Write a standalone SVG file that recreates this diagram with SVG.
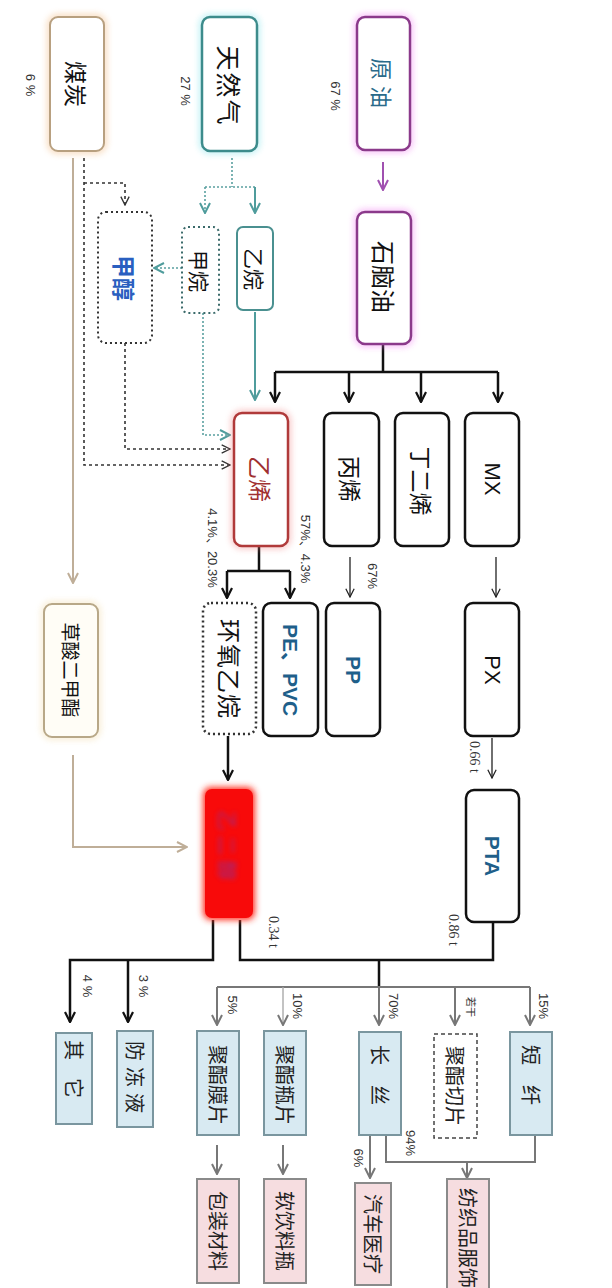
<svg xmlns="http://www.w3.org/2000/svg" width="612" height="1288" viewBox="0 0 612 1288">
<defs>
<style>
.t{font-family:"Noto Sans CJK SC","Noto Sans",sans-serif;font-size:22px;fill:#111;text-anchor:middle;dominant-baseline:central}
.e{font-family:"Liberation Sans",Arial,sans-serif;font-size:22px;fill:#111;text-anchor:middle;dominant-baseline:central}
.eb{font-family:"Liberation Sans",Arial,"Noto Sans CJK SC",sans-serif;font-size:21px;font-weight:bold;fill:#1f5f8a;text-anchor:middle;dominant-baseline:central}
.s{font-family:"Noto Sans CJK SC",sans-serif;font-size:20px;fill:#222;text-anchor:middle;dominant-baseline:central}
.l{font-family:"Liberation Sans",Arial,"Noto Sans CJK SC",sans-serif;font-size:13px;fill:#333;text-anchor:middle;dominant-baseline:central}
.lt{font-family:"Liberation Serif","Noto Sans CJK SC",serif;font-size:14px;fill:#333;text-anchor:middle;dominant-baseline:central}
.k{fill:#fff;stroke:#111;stroke-width:2.5}
.blue{fill:#d8eaf2;stroke:#7a969f;stroke-width:2}
.pink{fill:#f6dde0;stroke:#8a8a8a;stroke-width:2}
.bl{fill:none;stroke:#111;stroke-width:2.5}
.th{fill:none;stroke:#222;stroke-width:1.3}
.gr{fill:none;stroke:#777;stroke-width:2}
.tan{fill:none;stroke:#bfae98;stroke-width:2}
.dk{fill:none;stroke:#333;stroke-width:1.6;stroke-dasharray:3 3}
.tl{fill:none;stroke:#5aa0a0;stroke-width:1.6;stroke-dasharray:2 2}
.ts{fill:none;stroke:#4f9c9c;stroke-width:2}
.glow{fill:none;stroke-width:6;opacity:0.45}
</style>
<filter id="blur" x="-30%" y="-30%" width="160%" height="160%"><feGaussianBlur stdDeviation="3"/></filter>
<filter id="blur2" x="-30%" y="-30%" width="160%" height="160%"><feGaussianBlur stdDeviation="2.6"/></filter>
<marker id="aK" viewBox="0 0 12 12" refX="11" refY="6" markerWidth="12" markerHeight="12" markerUnits="userSpaceOnUse" orient="auto"><path d="M1,1 L11,6 L1,11" fill="none" stroke="#111" stroke-width="2.2"/></marker>
<marker id="aT" viewBox="0 0 12 12" refX="11" refY="6" markerWidth="10" markerHeight="10" markerUnits="userSpaceOnUse" orient="auto"><path d="M1,1 L11,6 L1,11" fill="none" stroke="#222" stroke-width="1.5"/></marker>
<marker id="aG" viewBox="0 0 12 12" refX="11" refY="6" markerWidth="12" markerHeight="12" markerUnits="userSpaceOnUse" orient="auto"><path d="M1,1 L11,6 L1,11" fill="none" stroke="#777" stroke-width="2"/></marker>
<marker id="aN" viewBox="0 0 12 12" refX="11" refY="6" markerWidth="12" markerHeight="12" markerUnits="userSpaceOnUse" orient="auto"><path d="M1,1 L11,6 L1,11" fill="none" stroke="#bfae98" stroke-width="2"/></marker>
<marker id="aP" viewBox="0 0 12 12" refX="11" refY="6" markerWidth="12" markerHeight="12" markerUnits="userSpaceOnUse" orient="auto"><path d="M1,1 L11,6 L1,11" fill="none" stroke="#a050b0" stroke-width="2"/></marker>
<marker id="aC" viewBox="0 0 12 12" refX="11" refY="6" markerWidth="12" markerHeight="12" markerUnits="userSpaceOnUse" orient="auto"><path d="M1,1 L11,6 L1,11" fill="none" stroke="#4f9c9c" stroke-width="2"/></marker>
<marker id="aD" viewBox="0 0 12 12" refX="11" refY="6" markerWidth="10" markerHeight="10" markerUnits="userSpaceOnUse" orient="auto"><path d="M1,1 L11,6 L1,11" fill="none" stroke="#333" stroke-width="1.6"/></marker>
</defs>
<rect width="612" height="1288" fill="#fff"/>

<g id="connectors">
<path class="bl" d="M383,344 V372 M275,372 H498"/>
<path class="bl" d="M275,372 V402" marker-end="url(#aK)"/>
<path class="bl" d="M349,372 V402" marker-end="url(#aK)"/>
<path class="bl" d="M421,372 V402" marker-end="url(#aK)"/>
<path class="bl" d="M498,372 V402" marker-end="url(#aK)"/>
<path class="bl" d="M259,546 V571 M227,571 H290"/>
<path class="bl" d="M227,571 V598" marker-end="url(#aK)"/>
<path class="bl" d="M290,571 V598" marker-end="url(#aK)"/>
<path class="th" d="M350,557 V597" marker-end="url(#aT)"/>
<path class="th" d="M496,557 V597" marker-end="url(#aT)"/>
<path class="th" d="M492,738 V778" marker-end="url(#aT)"/>
<path class="bl" d="M228,736 V780" marker-end="url(#aK)"/>
<path class="bl" d="M213,920 V960 H70 V1022" marker-end="url(#aK)"/>
<path class="bl" d="M128,960 V1022" marker-end="url(#aK)"/>
<path class="bl" d="M240,920 V960 H493 V922 M379,960 V987"/>
<path class="gr" d="M217,987 H530"/>
<path class="gr" d="M217,987 V1025" marker-end="url(#aG)"/>
<path class="gr" d="M283,987 V1025" style="stroke:#aaa;stroke-width:1.4" marker-end="url(#aG)"/>
<path class="gr" d="M379,987 V1025" marker-end="url(#aG)"/>
<path class="gr" d="M455,987 V1025" marker-end="url(#aG)"/>
<path class="gr" d="M530,987 V1025" marker-end="url(#aG)"/>
<path class="gr" d="M217,1145 V1174" marker-end="url(#aG)"/>
<path class="gr" d="M283,1145 V1174" marker-end="url(#aG)"/>
<path class="gr" d="M370,1135 V1178" marker-end="url(#aG)"/>
<path class="gr" d="M386,1135 V1162 H535 V1135"/>
<path class="gr" d="M467,1162 V1178" marker-end="url(#aG)"/>
<path class="tan" d="M73,158 V583" marker-end="url(#aN)"/>
<path class="tan" d="M73,755 V847 H187" marker-end="url(#aN)"/>
<path class="dk" d="M84,158 V465 H230" marker-end="url(#aD)"/>
<path class="dk" d="M84,183 H125 V205" marker-end="url(#aD)"/>
<path class="dk" d="M125,343 V449 H230" marker-end="url(#aD)"/>
<path class="tl" d="M232,158 V187 M205,187 H255"/>
<path class="tl" d="M205,187 V213" marker-end="url(#aC)"/>
<path class="ts" d="M255,187 V213" marker-end="url(#aC)"/>
<path class="tl" d="M182,268 H154" marker-end="url(#aC)"/>
<path class="tl" d="M203,313 V435 H230" marker-end="url(#aC)"/>
<path class="ts" d="M255,312 V400" marker-end="url(#aC)"/>
<path fill="none" stroke="#a050b0" stroke-width="2" d="M383,162 V190" marker-end="url(#aP)"/>
</g>

<g id="meitan">
<rect x="50" y="17" width="54" height="134" rx="8" class="glow" stroke="#f0b070" filter="url(#blur)"/>
<rect x="50" y="17" width="54" height="134" rx="8" fill="#fff" stroke="#b8a080" stroke-width="2"/>
<text class="t" transform="translate(77,84) rotate(90)" style="font-size:23px">煤炭</text>
<text class="l" transform="translate(30,85) rotate(90)">6 %</text>
</g>
<g id="tianranqi">
<rect x="202" y="17" width="55" height="134" rx="8" class="glow" stroke="#70e0e8" filter="url(#blur)"/>
<rect x="202" y="17" width="55" height="134" rx="8" fill="#fff" stroke="#3d8c8c" stroke-width="2.5"/>
<text class="t" transform="translate(230,86) rotate(90)" style="font-size:25px" letter-spacing="2">天然气</text>
<text class="l" transform="translate(185,91) rotate(90)">27 %</text>
</g>
<g id="yuanyou">
<rect x="357" y="17" width="53" height="133" rx="8" class="glow" stroke="#f070f0" filter="url(#blur)"/>
<rect x="357" y="17" width="53" height="133" rx="8" fill="#fff" stroke="#8b3a8b" stroke-width="2.5"/>
<text class="t" transform="translate(383,86) rotate(90)" style="fill:#2a6a8a" letter-spacing="6">原油</text>
<text class="l" transform="translate(335,96) rotate(90)">67 %</text>
</g>
<g id="shinaoyou">
<rect x="357" y="212" width="54" height="132" rx="8" class="glow" stroke="#f070f0" filter="url(#blur)"/>
<rect x="357" y="212" width="54" height="132" rx="8" fill="#fff" stroke="#8b3a8b" stroke-width="2.5"/>
<text class="t" transform="translate(384,277) rotate(90)" style="font-size:24px">石脑油</text>
</g>
<g id="jiawan">
<rect x="182" y="227" width="37" height="86" rx="6" fill="#fff" stroke="#3a6a6a" stroke-width="2" stroke-dasharray="2 3"/>
<text class="t" transform="translate(200,271) rotate(90)" style="font-size:21px">甲烷</text>
</g>
<g id="yiwan">
<rect x="237" y="227" width="36" height="83" rx="6" fill="#fff" stroke="#4a9090" stroke-width="2"/>
<text class="t" transform="translate(255,269) rotate(90)" style="font-size:21px">乙烷</text>
</g>
<g id="jiachun">
<rect x="98" y="212" width="54" height="131" rx="8" fill="#fff" stroke="#333" stroke-width="2" stroke-dasharray="2 3"/>
<text class="t" transform="translate(125,278) rotate(90)" style="fill:#2a5fc0;font-size:23px;font-weight:bold">甲醇</text>
</g>
<g id="yixi">
<rect x="234" y="413" width="54" height="133" rx="8" class="glow" stroke="#f08080" filter="url(#blur)"/>
<rect x="234" y="413" width="54" height="133" rx="8" fill="#fff" stroke="#b03a3a" stroke-width="2.5"/>
<text class="t" transform="translate(261,479) rotate(90)" style="fill:#a03030;font-size:23px">乙烯</text>
<text class="l" transform="translate(305,549) rotate(90)">57%、4.3%</text>
<text class="l" transform="translate(212,548) rotate(90)">4.1%、20.3%</text>
</g>
<g id="bingxi">
<rect x="324" y="413" width="55" height="133" rx="8" class="k"/>
<text class="t" transform="translate(351,479) rotate(90)" style="font-size:23px">丙烯</text>
<text class="l" transform="translate(372,576) rotate(90)">67%</text>
</g>
<g id="dingerxi">
<rect x="395" y="413" width="54" height="133" rx="8" class="k"/>
<text class="t" transform="translate(422,481) rotate(90)" style="font-size:23px">丁二烯</text>
</g>
<g id="mx">
<rect x="465" y="413" width="54" height="133" rx="8" class="k"/>
<text class="e" transform="translate(492,479) rotate(90)">MX</text>
</g>
<g id="huanyang">
<rect x="203" y="603" width="53" height="131" rx="8" fill="#fff" stroke="#333" stroke-width="2.5" stroke-dasharray="2 3"/>
<text class="t" transform="translate(230,669) rotate(90)" style="font-size:24px" letter-spacing="1">环氧乙烷</text>
</g>
<g id="pepvc">
<rect x="263" y="603" width="55" height="133" rx="8" class="k"/>
<text class="eb" transform="translate(290,670) rotate(90)">PE、PVC</text>
</g>
<g id="pp">
<rect x="326" y="603" width="54" height="133" rx="8" class="k"/>
<text class="eb" transform="translate(353,670) rotate(90)">PP</text>
</g>
<g id="px">
<rect x="465" y="603" width="54" height="133" rx="8" class="k"/>
<text class="e" transform="translate(492,670) rotate(90)">PX</text>
<text class="lt" transform="translate(474,757) rotate(90)">0.66 t</text>
</g>
<g id="pta">
<rect x="466" y="790" width="53" height="132" rx="8" class="k"/>
<text class="eb" transform="translate(492,856) rotate(90)">PTA</text>
<text class="lt" transform="translate(453,930) rotate(90)">0.86 t</text>
</g>
<g id="caosuan">
<rect x="44" y="604" width="54" height="133" rx="8" class="glow" stroke="#f0d8a0" filter="url(#blur)"/>
<rect x="44" y="604" width="54" height="133" rx="8" fill="#fffdf6" stroke="#b8a888" stroke-width="2"/>
<text class="t" transform="translate(71,670) rotate(90)" style="font-size:19px">草酸二甲酯</text>
</g>
<g id="yierchun">
<rect x="203" y="787" width="52" height="133" rx="8" fill="#ff3020" filter="url(#blur)"/>
<rect x="205" y="789" width="48" height="129" rx="7" fill="#f80a0a"/>
<text class="t" transform="translate(228,848) rotate(90)" style="fill:#5a40d8;font-size:20px;opacity:0.6" letter-spacing="5" filter="url(#blur2)">乙二醇</text>
<text class="lt" transform="translate(273,932) rotate(90)">0.34 t</text>
</g>
<g id="qita">
<rect x="56" y="1033" width="36" height="91" class="blue"/>
<text class="s" transform="translate(74,1078) rotate(90)" letter-spacing="18">其它</text>
<text class="l" transform="translate(87,986) rotate(90)">4 %</text>
</g>
<g id="fangdongye">
<rect x="117" y="1031" width="36" height="96" class="blue"/>
<text class="s" transform="translate(135,1080) rotate(90)" letter-spacing="6">防冻液</text>
<text class="l" transform="translate(143,986) rotate(90)">3 %</text>
</g>
<g id="jumo">
<rect x="197" y="1031" width="42" height="104" class="blue"/>
<text class="s" transform="translate(218,1085) rotate(90)">聚酯膜片</text>
<text class="l" transform="translate(232,1005) rotate(90)">5%</text>
</g>
<g id="jubing">
<rect x="264" y="1031" width="42" height="104" class="blue"/>
<text class="s" transform="translate(285,1085) rotate(90)">聚酯瓶片</text>
<text class="l" transform="translate(297,1006) rotate(90)">10%</text>
</g>
<g id="changsi">
<rect x="359" y="1032" width="42" height="103" class="blue"/>
<text class="s" transform="translate(380,1085) rotate(90)" letter-spacing="20">长丝</text>
<text class="l" transform="translate(393,1006) rotate(90)">70%</text>
<text class="l" transform="translate(358,1158) rotate(90)">6%</text>
<text class="l" transform="translate(410,1143) rotate(90)">94%</text>
</g>
<g id="juqie">
<rect x="434" y="1034" width="43" height="104" fill="#fff" stroke="#444" stroke-width="1.5" stroke-dasharray="4 3"/>
<text class="s" transform="translate(455,1086) rotate(90)">聚酯切片</text>
<text class="l" transform="translate(470,1007) rotate(90)" style="font-size:10px">若干</text>
</g>
<g id="duanxian">
<rect x="510" y="1032" width="42" height="103" class="blue"/>
<text class="s" transform="translate(531,1085) rotate(90)" letter-spacing="20">短纤</text>
<text class="l" transform="translate(543,1006) rotate(90)">15%</text>
</g>
<g id="baozhuang">
<rect x="197" y="1179" width="42" height="104" class="pink"/>
<text class="s" transform="translate(218,1231) rotate(90)">包装材料</text>
</g>
<g id="ruanyin">
<rect x="264" y="1179" width="42" height="104" class="pink"/>
<text class="s" transform="translate(285,1231) rotate(90)">软饮料瓶</text>
</g>
<g id="qiche">
<rect x="355" y="1183" width="36" height="102" class="pink"/>
<text class="s" transform="translate(373,1234) rotate(90)">汽车医疗</text>
</g>
<g id="fangzhi">
<rect x="447" y="1179" width="42" height="112" class="pink"/>
<text class="s" transform="translate(468,1238) rotate(90)">纺织品服饰</text>
</g>
</svg>
